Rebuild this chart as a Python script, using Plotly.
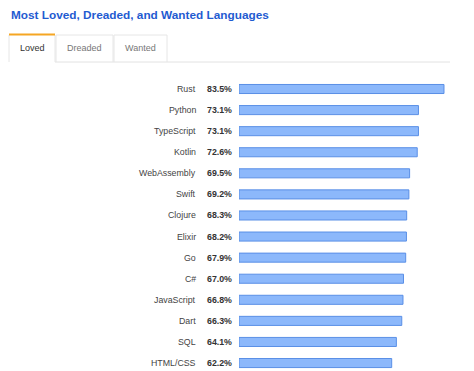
import plotly.graph_objects as go

languages = ["Rust", "Python", "TypeScript", "Kotlin", "WebAssembly", "Swift", "Clojure",
             "Elixir", "Go", "C#", "JavaScript", "Dart", "SQL", "HTML/CSS"]
loved_pct = [83.5, 73.1, 73.1, 72.6, 69.5, 69.2, 68.3, 68.2, 67.9, 67.0, 66.8, 66.3, 64.1, 62.2]
tabs = ["Loved", "Dreaded", "Wanted"]
title = "Most Loved, Dreaded, and Wanted Languages"

OFF = 8  # page body margin
W, H = 474 - OFF, 371 - OFF
L, R, T, B = 239 - OFF, 14, 78 - OFF, 0
PW, PH = W - L - R, H - T - B

def px(x):
    return (x - OFF - L) / PW

def py(y):
    return (H - B - (y - OFF)) / PH

FONT = "Liberation Sans, Arial, sans-serif"

fig = go.Figure(go.Bar(
    x=loved_pct, y=languages, orientation="h", width=0.43,
    marker=dict(color="#8cb8fb", line=dict(color="#5a8fe6", width=1)),
    hoverinfo="skip",
))

unit = 21.08
top = -11 / unit
bottom = top + PH / unit

annotations = []
for lang, v in zip(languages, loved_pct):
    annotations.append(dict(x=px(198), xref="paper", y=lang, yref="y", text=lang,
                            showarrow=False, xanchor="right", yanchor="middle",
                            font=dict(family=FONT, size=8.8, color="#444444")))
    annotations.append(dict(x=px(234), xref="paper", y=lang, yref="y", text=f"<b>{v:.1f}%</b>",
                            showarrow=False, xanchor="right", yanchor="middle",
                            font=dict(family=FONT, size=8.8, color="#333333")))

annotations.append(dict(x=px(9), xref="paper", y=py(14.5), yref="paper", text=f"<b>{title}</b>",
                        showarrow=False, xanchor="left", yanchor="middle",
                        font=dict(family=FONT, size=11.8, color="#1f5bd1")))

tab_edges = [(9, 55), (56, 113), (114, 167)]
tab_colors = ["#333333", "#777777", "#777777"]
for (a, b), name, c in zip(tab_edges, tabs, tab_colors):
    annotations.append(dict(x=px((a + b) / 2), xref="paper", y=py(48.5), yref="paper", text=name,
                            showarrow=False, xanchor="center", yanchor="middle",
                            font=dict(family=FONT, size=9, color=c)))

shapes = []
shapes.append(dict(type="line", xref="paper", yref="paper", x0=px(55), x1=px(450),
                   y0=py(62), y1=py(62), line=dict(color="#e2e2e2", width=1)))
for i, (a, b) in enumerate(tab_edges):
    shapes.append(dict(type="line", xref="paper", yref="paper", x0=px(a), x1=px(a),
                       y0=py(35), y1=py(62), line=dict(color="#e6e6e6", width=1)))
    shapes.append(dict(type="line", xref="paper", yref="paper", x0=px(b), x1=px(b),
                       y0=py(35), y1=py(62), line=dict(color="#e6e6e6", width=1)))
    if i == 0:
        shapes.append(dict(type="line", xref="paper", yref="paper", x0=px(a), x1=px(b),
                           y0=py(34.5), y1=py(34.5), line=dict(color="#f5a623", width=2)))
    else:
        shapes.append(dict(type="line", xref="paper", yref="paper", x0=px(a), x1=px(b),
                           y0=py(35), y1=py(35), line=dict(color="#e6e6e6", width=1)))

fig.update_layout(
    width=W, height=H,
    margin=dict(l=L, r=R, t=T, b=B, pad=0),
    paper_bgcolor="white", plot_bgcolor="white",
    showlegend=False,
    xaxis=dict(range=[0, PW / 2.455], visible=False, fixedrange=True),
    yaxis=dict(range=[bottom, top], visible=False, type="category", fixedrange=True),
    annotations=annotations, shapes=shapes,
)

fig.write_html("out.html", config={"displayModeBar": False})
